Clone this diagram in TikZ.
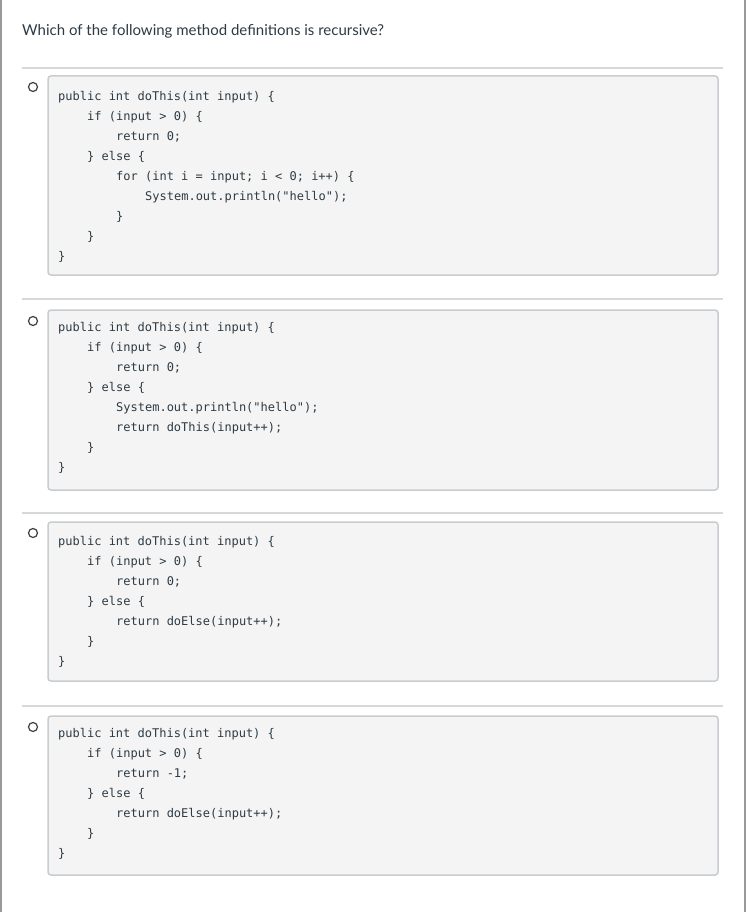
\documentclass[tikz,border=0pt]{standalone}
\usepackage{fontspec}
\setmainfont{Lato}
\newfontfamily\codefont{DejaVu Sans Mono}
\definecolor{boxfill}{HTML}{F4F4F4}
\definecolor{boxline}{HTML}{C7CDD1}
\definecolor{sepline}{HTML}{D8D8D8}
\definecolor{txt}{HTML}{2D3B45}
\begin{document}
\begin{tikzpicture}[x=1pt,y=-1pt,
  codebox/.style={draw=boxline,line width=1.5pt,fill=boxfill,rounded corners=3pt},
  radio/.style={circle,draw=black!75,line width=1.2pt,minimum size=9pt,inner sep=0pt},
  cl/.style={anchor=west,inner sep=0pt,font=\codefont\fontsize{12}{14}\selectfont,text=txt},
  sep/.style={draw=sepline,line width=1.2pt}]
\useasboundingbox[fill=white] (0,0) rectangle (746,912);
\draw[black!40,line width=2pt] (1,0) -- (1,912);
\draw[black!40,line width=2pt] (745,0) -- (745,912);
\node[anchor=west,inner sep=0pt,font=\fontsize{15}{18}\selectfont,text=txt] (title) at (22,31) {Which of the following method definitions is recursive?};
% separators
\foreach \y/\n in {68/s1,299/s2,513/s3,706/s4}{\draw[sep] (22,\y) coordinate(\n a) -- (723,\y) coordinate(\n b);}
% option 1
\node[radio] (r1) at (33,87) {};
\draw[codebox] (48,76) rectangle (718,275);
\node[cl] (a1) at (58,97) {public int doThis(int input) \{};
\node[cl] (a2) at (87,117) {if (input > 0) \{};
\node[cl] (a3) at (116,137) {return 0;};
\node[cl] (a4) at (87,157) {\} else \{};
\node[cl] (a5) at (116,177) {for (int i = input; i < 0; i++) \{};
\node[cl] (a6) at (145,197) {System.out.println("hello");};
\node[cl] (a7) at (116,217) {\}};
\node[cl] (a8) at (87,237) {\}};
\node[cl] (a9) at (58,257) {\}};
% option 2
\node[radio] (r2) at (33,321) {};
\draw[codebox] (48,310) rectangle (718,490);
\node[cl] (b1) at (58,328) {public int doThis(int input) \{};
\node[cl] (b2) at (87,348) {if (input > 0) \{};
\node[cl] (b3) at (116,368) {return 0;};
\node[cl] (b4) at (87,388) {\} else \{};
\node[cl] (b5) at (116,408) {System.out.println("hello");};
\node[cl] (b6) at (116,428) {return doThis(input++);};
\node[cl] (b7) at (87,448) {\}};
\node[cl] (b8) at (58,468) {\}};
% option 3
\node[radio] (r3) at (33,533) {};
\draw[codebox] (48,522) rectangle (718,681);
\node[cl] (c1) at (58,542) {public int doThis(int input) \{};
\node[cl] (c2) at (87,562) {if (input > 0) \{};
\node[cl] (c3) at (116,582) {return 0;};
\node[cl] (c4) at (87,602) {\} else \{};
\node[cl] (c5) at (116,622) {return doElse(input++);};
\node[cl] (c6) at (87,642) {\}};
\node[cl] (c7) at (58,662) {\}};
% option 4
\node[radio] (r4) at (33,727) {};
\draw[codebox] (48,716) rectangle (718,875);
\node[cl] (d1) at (58,734) {public int doThis(int input) \{};
\node[cl] (d2) at (87,754) {if (input > 0) \{};
\node[cl] (d3) at (116,774) {return -1;};
\node[cl] (d4) at (87,794) {\} else \{};
\node[cl] (d5) at (116,814) {return doElse(input++);};
\node[cl] (d6) at (87,834) {\}};
\node[cl] (d7) at (58,854) {\}};
\end{tikzpicture}
\end{document}
